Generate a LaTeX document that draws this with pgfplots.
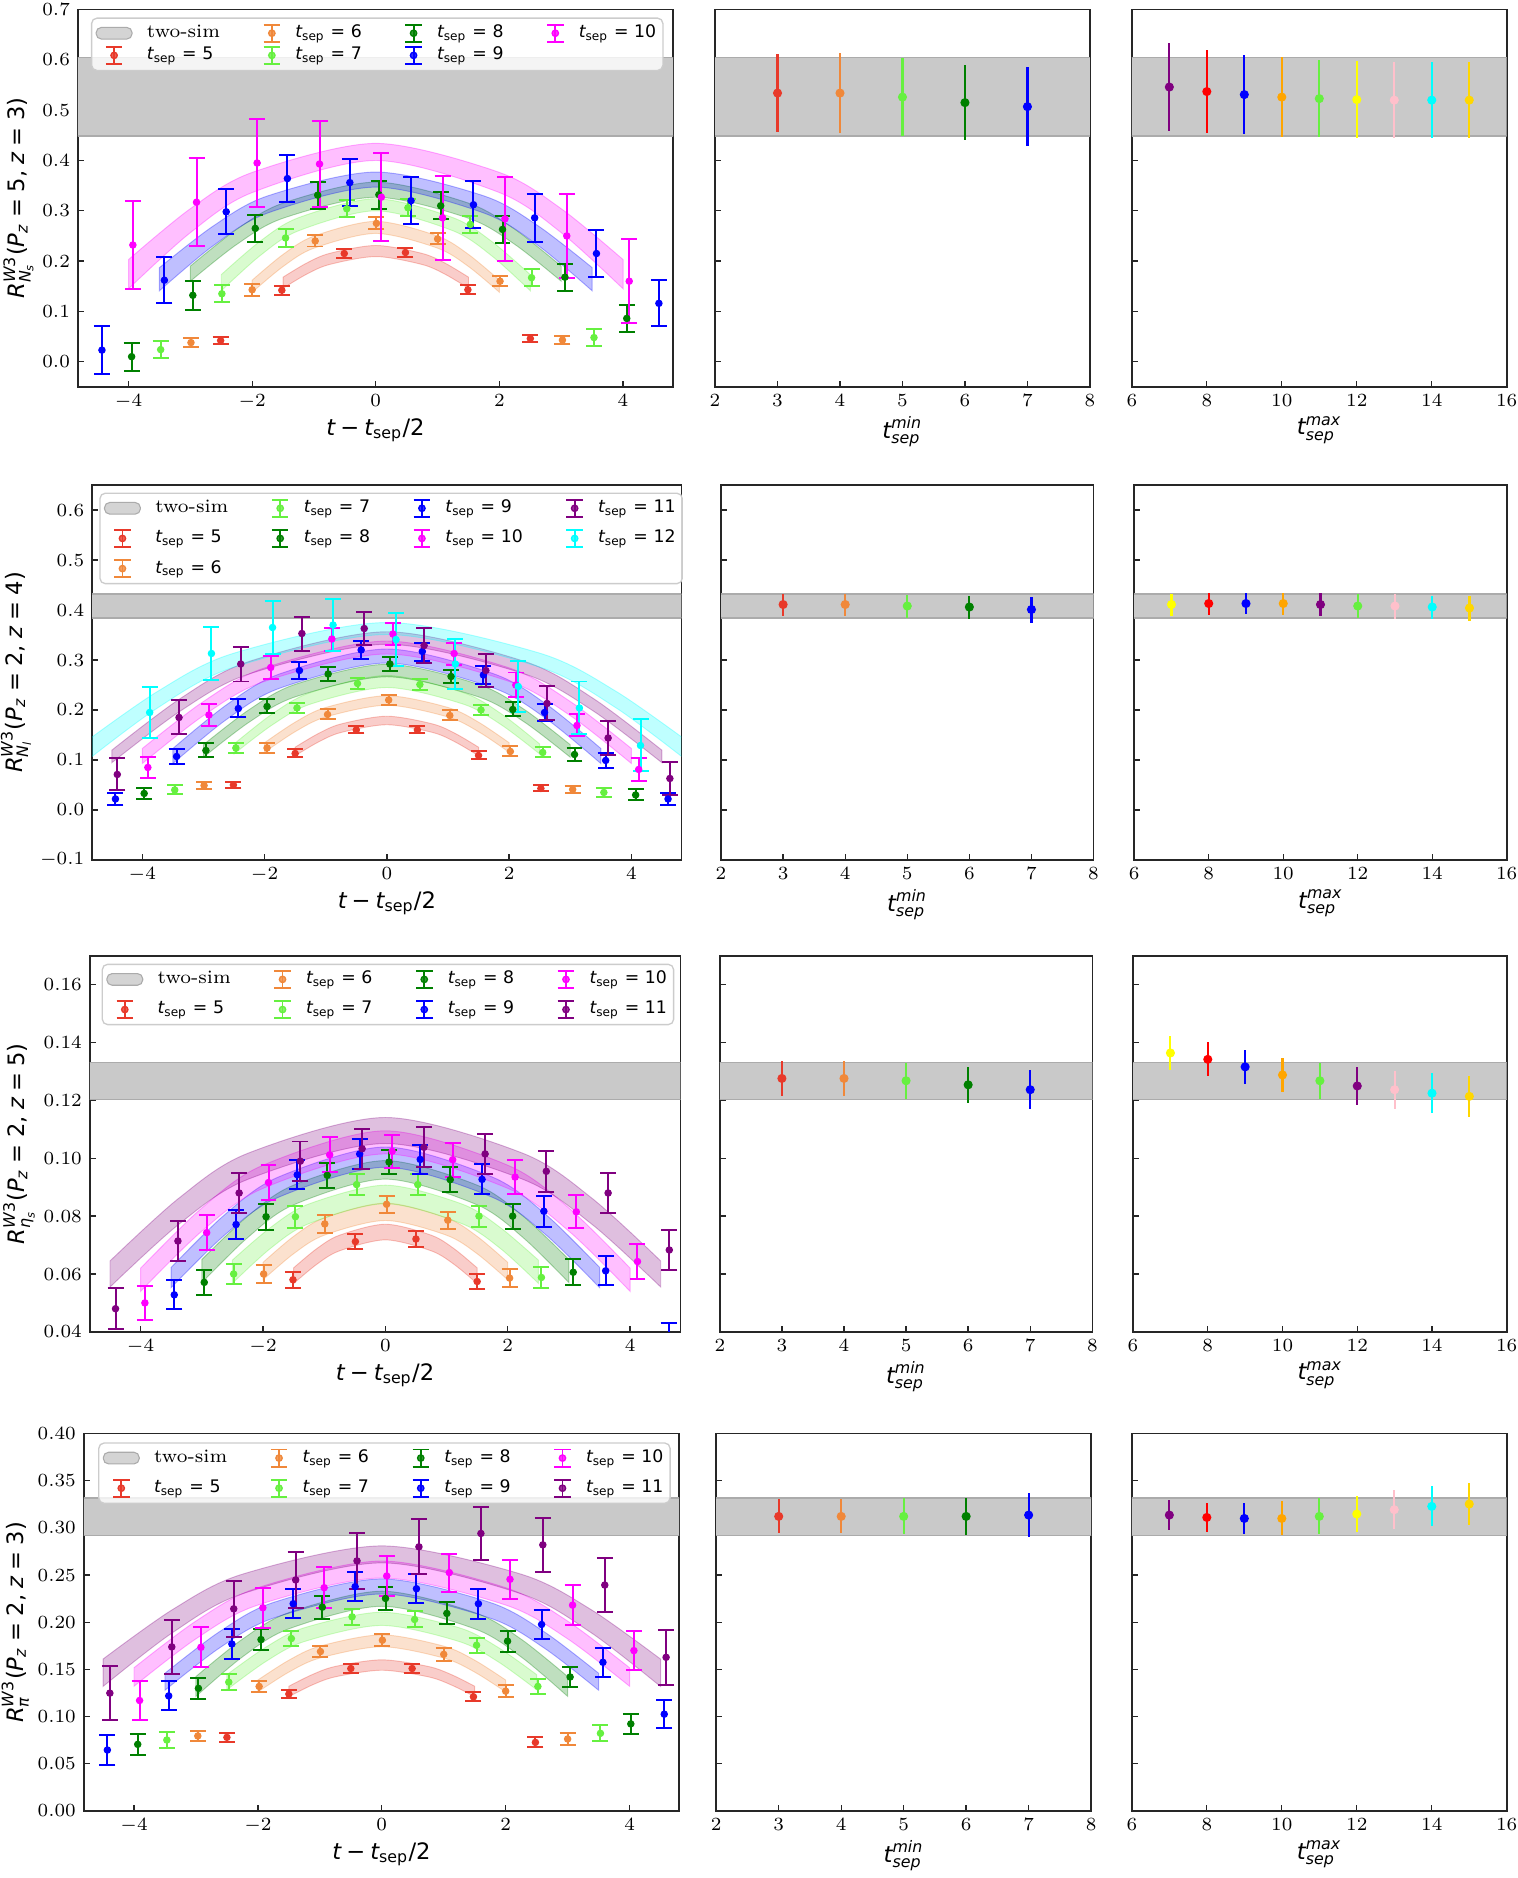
\documentclass[border=0pt]{standalone}
\usepackage{amsmath}
\usepackage{graphicx}
\usepackage{fontspec}
\usepackage{pgfplots}
\pgfplotsset{compat=1.18}
\usepgfplotslibrary{fillbetween}
\newfontfamily\dvs{DejaVu Sans}

\definecolor{cR}{HTML}{E8392A}
\definecolor{cRR}{HTML}{FF0000}
\definecolor{cO}{HTML}{F0883A}
\definecolor{cOr}{HTML}{FFA500}
\definecolor{cLG}{HTML}{66F040}
\definecolor{cDG}{HTML}{008000}
\definecolor{cB}{HTML}{0000FF}
\definecolor{cM}{HTML}{FF00FF}
\definecolor{cP}{HTML}{800080}
\definecolor{cC}{HTML}{00FFFF}
\definecolor{cY}{HTML}{FFFF00}
\definecolor{cPk}{HTML}{FFC0CB}
\definecolor{cGd}{HTML}{FFD700}

\newcommand{\sI}[1]{\text{\dvs\itshape #1}}
\newcommand{\sU}[1]{\text{\dvs\upshape #1}}
\newcommand{\ts}[1]{{\fontsize{6.5}{7.5}\selectfont$\sI{t}_{\sU{sep}}\mathrel{\sU{=}}\sU{#1}$}}
\newcommand{\Rlab}[3]{$\sI{R}^{\sI{W}\sU{3}}_{#1}\sU{(}\sI{P}_{\sI{z}}\mathrel{\sU{=}}\sU{#2}\sU{,}\;\sI{z}\mathrel{\sU{=}}\sU{#3}\sU{)}$}
\newcommand{\xlabL}{$\sI{t}\mathbin{\sU{−}}\sI{t}_{\sU{sep}}\sU{/2}$}
\newcommand{\xlabM}{$\sI{t}^{\sI{min}}_{\sI{sep}}$}
\newcommand{\xlabR}{$\sI{t}^{\sI{max}}_{\sI{sep}}$}

\newcommand{\band}[4]{%
 \addplot[draw=none, smooth, name path=u#1, forget plot] coordinates {#3};
 \addplot[draw=none, smooth, name path=l#1, forget plot] coordinates {#4};
 \addplot[fill=#2, fill opacity=0.25, draw=#2, draw opacity=0.3, line width=0.35pt, forget plot] fill between[of=u#1 and l#1];
}
\newcommand{\gband}[2]{%
 \addplot[draw=none, name path=gA, forget plot] coordinates {(-10,#1) (20,#1)};
 \addplot[draw=none, name path=gB, forget plot] coordinates {(-10,#2) (20,#2)};
 \addplot[fill=black!21, draw=none, forget plot] fill between[of=gA and gB];
 \addplot[draw=black!33, line width=0.55pt, forget plot] coordinates {(-10,#1) (20,#1)};
 \addplot[draw=black!33, line width=0.55pt, forget plot] coordinates {(-10,#2) (20,#2)};
}

\pgfplotsset{
  base/.style={scale only axis, axis line style={black!85, line width=0.6pt},
    tick align=inside, tick pos=left, major tick length=2.2pt,
    tick style={black!85, line width=0.5pt},
    tick label style={font=\fontsize{7.1}{8.5}\selectfont, inner sep=2.8pt},
    label style={font=\fontsize{8.5}{10}\selectfont},
    xlabel shift=-2.6pt, ylabel shift=-3pt,
    scaled ticks=false, anchor=north west},
  leftax/.style={base, xtick={-4,-2,0,2,4}, xlabel={\xlabL}},
  midax/.style={base, xmin=2, xmax=8, xtick={2,3,4,5,6,7,8}, yticklabels={}, xlabel={\xlabM}},
  rightax/.style={base, xmin=6, xmax=16, xtick={6,8,10,12,14,16}, yticklabels={}, xlabel={\xlabR}},
  lp/.style={forget plot, color=#1, only marks, mark=*, mark size=1.2pt,
    error bars/.cd, y dir=both, y explicit,
    error bar style={line width=0.75pt, color=#1},
    error mark options={rotate=90, line width=0.75pt, mark size=3.0pt, color=#1}},
  mp/.style={forget plot, color=#1, only marks, mark=*, mark size=1.5pt,
    error bars/.cd, y dir=both, y explicit, error mark=none,
    error bar style={line width=0.8pt, color=#1}},
  ebleg/.style={legend image code/.code={
    \draw[line width=0.7pt] (6.75pt,-3.2pt) -- (6.75pt,3.2pt);
    \draw[line width=0.7pt] (3.65pt,-3.2pt) -- (9.85pt,-3.2pt);
    \draw[line width=0.7pt] (3.65pt,3.2pt) -- (9.85pt,3.2pt);
    \fill (6.75pt,0pt) circle (1.2pt);}},
  bandleg/.style={legend image code/.code={
    \draw[fill=black!21, draw=black!33, line width=0.4pt] (0pt,-2.2pt) rectangle (13.5pt,2.2pt);}},
  legst/.style 2 args={legend columns=4, legend cell align=left,
    legend style={at={#1}, anchor=north west, draw=black!20, line width=0.5pt,
      rounded corners=2pt, fill=white, fill opacity=0.8, draw opacity=1, text opacity=1,
      inner xsep=1.5pt, inner ysep=1.5pt, row sep=#2,
      font=\fontsize{7.1}{8.5}\selectfont, nodes={inner sep=1pt},
      /tikz/every odd column/.append style={column sep=4.4pt},
      /tikz/every even column/.append style={column sep=15pt}}},
}

\begin{document}
\begin{tikzpicture}

%%%%%%%%%%%%%%%%%%%%%%%% ROW 1 %%%%%%%%%%%%%%%%%%%%%%%%
\begin{axis}[leftax, at={(29.25pt,-3.6pt)}, width=223.65pt, height=141.75pt,
  xmin=-4.82, xmax=4.81, ymin=-0.05, ymax=0.7,
  ytick={0,0.1,0.2,0.3,0.4,0.5,0.6,0.7},
  yticklabel style={/pgf/number format/.cd, fixed, fixed zerofill, precision=1},
  ylabel={\Rlab{\sI{N}_{\sI{s}}}{5}{3}},
  legst={(0.022,0.979)}{0pt}]
\gband{0.449}{0.605}
\band{5}{cR}{(-1.5,0.168) (-1.125,0.1956) (-0.75,0.2152) (0,0.231) (0.75,0.2152) (1.125,0.1956) (1.5,0.168)}{(-1.5,0.146) (-1.125,0.1736) (-0.75,0.1932) (0,0.209) (0.75,0.1932) (1.125,0.1736) (1.5,0.146)}
\band{6}{cO}{(-2,0.162) (-1.5,0.2132) (-1,0.2497) (0,0.279) (1,0.2497) (1.5,0.2132) (2,0.162)}{(-2,0.138) (-1.5,0.1892) (-1,0.2257) (0,0.255) (1,0.2257) (1.5,0.1892) (2,0.138)}
\band{7}{cLG}{(-2.5,0.173) (-1.875,0.2391) (-1.25,0.2862) (0,0.324) (1.25,0.2862) (1.875,0.2391) (2.5,0.173)}{(-2.5,0.141) (-1.875,0.2105) (-1.25,0.2602) (0,0.300) (1.25,0.2602) (1.875,0.2105) (2.5,0.141)}
\band{8}{cDG}{(-3,0.190) (-2.25,0.2631) (-1.5,0.3152) (0,0.357) (1.5,0.3152) (2.25,0.2631) (3,0.190)}{(-3,0.160) (-2.25,0.2331) (-1.5,0.2852) (0,0.327) (1.5,0.2852) (2.25,0.2331) (3,0.160)}
\band{9}{cB}{(-3.5,0.187) (-2.625,0.2701) (-1.75,0.3295) (0,0.377) (1.75,0.3295) (2.625,0.2701) (3.5,0.187)}{(-3.5,0.141) (-2.625,0.2311) (-1.75,0.2955) (0,0.347) (1.75,0.2955) (2.625,0.2311) (3.5,0.141)}
\band{10}{cM}{(-4,0.203) (-3,0.3041) (-2,0.3762) (0,0.434) (2,0.3762) (3,0.3041) (4,0.203)}{(-4,0.145) (-3,0.2565) (-2,0.3362) (0,0.400) (2,0.3362) (3,0.2565) (4,0.145)}
\addplot[lp=cR] coordinates {(-2.51,0.042) +- (0,0.007) (-1.52,0.142) +- (0,0.009) (-0.51,0.215) +- (0,0.009) (0.48,0.217) +- (0,0.009) (1.49,0.143) +- (0,0.009) (2.50,0.046) +- (0,0.007)};
\addplot[lp=cO] coordinates {(-2.99,0.038) +- (0,0.009) (-2.00,0.143) +- (0,0.012) (-0.98,0.240) +- (0,0.011) (0.01,0.275) +- (0,0.012) (1.00,0.244) +- (0,0.011) (2.01,0.160) +- (0,0.010) (3.02,0.043) +- (0,0.008)};
\addplot[lp=cLG] coordinates {(-3.48,0.024) +- (0,0.017) (-2.49,0.135) +- (0,0.017) (-1.46,0.246) +- (0,0.018) (-0.47,0.304) +- (0,0.017) (0.52,0.306) +- (0,0.017) (1.53,0.273) +- (0,0.017) (2.52,0.167) +- (0,0.017) (3.53,0.048) +- (0,0.017)};
\addplot[lp=cDG] coordinates {(-3.95,0.010) +- (0,0.028) (-2.96,0.132) +- (0,0.029) (-1.95,0.265) +- (0,0.027) (-0.94,0.331) +- (0,0.027) (0.05,0.332) +- (0,0.028) (1.05,0.310) +- (0,0.027) (2.05,0.263) +- (0,0.027) (3.06,0.168) +- (0,0.027) (4.06,0.086) +- (0,0.027)};
\addplot[lp=cB] coordinates {(-4.43,0.023) +- (0,0.047) (-3.42,0.162) +- (0,0.046) (-2.42,0.298) +- (0,0.045) (-1.43,0.364) +- (0,0.047) (-0.42,0.356) +- (0,0.046) (0.57,0.320) +- (0,0.047) (1.58,0.312) +- (0,0.047) (2.57,0.286) +- (0,0.048) (3.57,0.215) +- (0,0.046) (4.58,0.116) +- (0,0.046)};
\addplot[lp=cM] coordinates {(-3.93,0.232) +- (0,0.088) (-2.90,0.317) +- (0,0.087) (-1.92,0.395) +- (0,0.088) (-0.91,0.393) +- (0,0.086) (0.09,0.327) +- (0,0.087) (1.08,0.286) +- (0,0.084) (2.09,0.284) +- (0,0.083) (3.09,0.250) +- (0,0.083) (4.10,0.160) +- (0,0.083)};
\addlegendimage{bandleg}\addlegendentry{two-sim}
\addlegendimage{ebleg,cO}\addlegendentry{\ts{6}}
\addlegendimage{ebleg,cDG}\addlegendentry{\ts{8}}
\addlegendimage{ebleg,cM}\addlegendentry{\ts{10}}
\addlegendimage{ebleg,cR}\addlegendentry{\ts{5}}
\addlegendimage{ebleg,cLG}\addlegendentry{\ts{7}}
\addlegendimage{ebleg,cB}\addlegendentry{\ts{9}}
\end{axis}

\begin{axis}[midax, at={(268.65pt,-3.6pt)}, width=140.85pt, height=141.75pt,
  ymin=-0.05, ymax=0.7, ytick={0,0.1,0.2,0.3,0.4,0.5,0.6,0.7}]
\gband{0.449}{0.605}
\addplot[mp=cR] coordinates {(3,0.534) +- (0,0.077)};
\addplot[mp=cO] coordinates {(4,0.534) +- (0,0.080)};
\addplot[mp=cLG] coordinates {(5,0.526) +- (0,0.078)};
\addplot[mp=cDG] coordinates {(6,0.515) +- (0,0.074)};
\addplot[mp=cB] coordinates {(7,0.507) +- (0,0.078)};
\end{axis}

\begin{axis}[rightax, at={(425.25pt,-3.6pt)}, width=140.85pt, height=141.75pt,
  ymin=-0.05, ymax=0.7, ytick={0,0.1,0.2,0.3,0.4,0.5,0.6,0.7}]
\gband{0.449}{0.605}
\addplot[mp=cP] coordinates {(7,0.546) +- (0,0.087)};
\addplot[mp=cRR] coordinates {(8,0.537) +- (0,0.082)};
\addplot[mp=cB] coordinates {(9,0.531) +- (0,0.078)};
\addplot[mp=cOr] coordinates {(10,0.526) +- (0,0.079)};
\addplot[mp=cLG] coordinates {(11,0.523) +- (0,0.076)};
\addplot[mp=cY] coordinates {(12,0.521) +- (0,0.077)};
\addplot[mp=cPk] coordinates {(13,0.520) +- (0,0.075)};
\addplot[mp=cC] coordinates {(14,0.520) +- (0,0.075)};
\addplot[mp=cGd] coordinates {(15,0.520) +- (0,0.075)};
\end{axis}

%%%%%%%%%%%%%%%%%%%%%%%% ROW 2 %%%%%%%%%%%%%%%%%%%%%%%%
\begin{axis}[leftax, at={(34.65pt,-182.25pt)}, width=221.4pt, height=140.85pt,
  xmin=-4.82, xmax=4.82, ymin=-0.1, ymax=0.65,
  ytick={-0.1,0,0.1,0.2,0.3,0.4,0.5,0.6},
  yticklabel style={/pgf/number format/.cd, fixed, fixed zerofill, precision=1},
  ylabel={\Rlab{\sI{N}_{\sI{l}}}{2}{4}},
  legst={(0.012,0.98)}{3pt}]
\gband{0.384}{0.432}
\band{5}{cR}{(-1.5,0.1255) (-1.125,0.1526) (-0.75,0.172) (0,0.1875) (0.75,0.172) (1.125,0.1526) (1.5,0.1255)}{(-1.5,0.1085) (-1.125,0.1356) (-0.75,0.155) (0,0.1705) (0.75,0.155) (1.125,0.1356) (1.5,0.1085)}
\band{6}{cO}{(-2,0.1345) (-1.5,0.1756) (-1,0.205) (0,0.2285) (1,0.205) (1.5,0.1756) (2,0.1345)}{(-2,0.1155) (-1.5,0.1566) (-1,0.186) (0,0.2095) (1,0.186) (1.5,0.1566) (2,0.1155)}
\band{7}{cLG}{(-2.5,0.132) (-1.875,0.1921) (-1.25,0.2347) (0,0.269) (1.25,0.2347) (1.875,0.1921) (2.5,0.132)}{(-2.5,0.112) (-1.875,0.1701) (-1.25,0.2117) (0,0.245) (1.25,0.2117) (1.875,0.1701) (2.5,0.112)}
\band{8}{cDG}{(-3,0.1305) (-2.25,0.2009) (-1.5,0.2512) (0,0.2915) (1.5,0.2512) (2.25,0.2009) (3,0.1305)}{(-3,0.1055) (-2.25,0.1759) (-1.5,0.2262) (0,0.2665) (1.5,0.2262) (2.25,0.1759) (3,0.1055)}
\band{9}{cB}{(-3.5,0.123) (-2.625,0.2101) (-1.75,0.2723) (0,0.322) (1.75,0.2723) (2.625,0.2101) (3.5,0.123)}{(-3.5,0.093) (-2.625,0.1809) (-1.75,0.2437) (0,0.294) (1.75,0.2437) (2.625,0.1809) (3.5,0.093)}
\band{10}{cM}{(-4,0.123) (-3,0.217) (-2,0.2842) (0,0.338) (2,0.2842) (3,0.217) (4,0.123)}{(-4,0.093) (-3,0.1888) (-2,0.2572) (0,0.312) (2,0.2572) (3,0.1888) (4,0.093)}
\band{11}{cP}{(-4.5,0.1195) (-3.375,0.2232) (-2.25,0.2972) (0,0.3565) (2.25,0.2972) (3.375,0.2232) (4.5,0.1195)}{(-4.5,0.0945) (-3.375,0.1982) (-2.25,0.2722) (0,0.3315) (2.25,0.2722) (3.375,0.1982) (4.5,0.0945)}
\band{12}{cC}{(-5,0.130) (-3.75,0.2372) (-2.5,0.3137) (0,0.375) (2.5,0.3137) (3.75,0.2372) (5,0.130)}{(-5,0.090) (-3.75,0.2042) (-2.5,0.2857) (0,0.351) (2.5,0.2857) (3.75,0.2042) (5,0.090)}
\addplot[lp=cR] coordinates {(-2.51,0.050) +- (0,0.006) (-1.50,0.113) +- (0,0.008) (-0.50,0.160) +- (0,0.007) (0.50,0.160) +- (0,0.007) (1.50,0.109) +- (0,0.008) (2.52,0.043) +- (0,0.006)};
\addplot[lp=cO] coordinates {(-2.99,0.049) +- (0,0.007) (-1.96,0.124) +- (0,0.010) (-0.97,0.191) +- (0,0.010) (0.03,0.220) +- (0,0.010) (1.03,0.189) +- (0,0.010) (2.02,0.117) +- (0,0.010) (3.04,0.041) +- (0,0.007)};
\addplot[lp=cLG] coordinates {(-3.47,0.040) +- (0,0.009) (-2.47,0.124) +- (0,0.010) (-1.47,0.204) +- (0,0.010) (-0.48,0.253) +- (0,0.011) (0.54,0.251) +- (0,0.011) (1.54,0.200) +- (0,0.010) (2.55,0.115) +- (0,0.010) (3.55,0.035) +- (0,0.009)};
\addplot[lp=cDG] coordinates {(-3.97,0.033) +- (0,0.011) (-2.96,0.119) +- (0,0.014) (-1.96,0.207) +- (0,0.014) (-0.96,0.272) +- (0,0.014) (0.05,0.292) +- (0,0.014) (1.05,0.267) +- (0,0.014) (2.06,0.201) +- (0,0.014) (3.07,0.111) +- (0,0.013) (4.07,0.030) +- (0,0.011)};
\addplot[lp=cB] coordinates {(-4.44,0.022) +- (0,0.012) (-3.44,0.107) +- (0,0.015) (-2.43,0.203) +- (0,0.018) (-1.43,0.279) +- (0,0.017) (-0.42,0.320) +- (0,0.018) (0.58,0.317) +- (0,0.018) (1.58,0.270) +- (0,0.018) (2.58,0.195) +- (0,0.017) (3.58,0.099) +- (0,0.015) (4.60,0.022) +- (0,0.012)};
\addplot[lp=cM] coordinates {(-3.91,0.085) +- (0,0.021) (-2.91,0.190) +- (0,0.022) (-1.90,0.285) +- (0,0.023) (-0.90,0.342) +- (0,0.023) (0.10,0.352) +- (0,0.022) (1.10,0.313) +- (0,0.022) (2.11,0.250) +- (0,0.025) (3.11,0.169) +- (0,0.022) (4.12,0.081) +- (0,0.023)};
\addplot[lp=cP] coordinates {(-4.41,0.071) +- (0,0.032) (-3.40,0.185) +- (0,0.034) (-2.39,0.292) +- (0,0.035) (-1.39,0.353) +- (0,0.034) (-0.37,0.363) +- (0,0.033) (0.61,0.329) +- (0,0.035) (1.62,0.279) +- (0,0.034) (2.62,0.213) +- (0,0.034) (3.62,0.144) +- (0,0.034) (4.63,0.063) +- (0,0.033)};
\addplot[lp=cC] coordinates {(-3.88,0.195) +- (0,0.051) (-2.87,0.313) +- (0,0.053) (-1.87,0.365) +- (0,0.053) (-0.88,0.370) +- (0,0.052) (0.15,0.341) +- (0,0.053) (1.12,0.292) +- (0,0.051) (2.15,0.247) +- (0,0.051) (3.15,0.204) +- (0,0.053) (4.15,0.129) +- (0,0.052)};
\addlegendimage{bandleg}\addlegendentry{two-sim}
\addlegendimage{ebleg,cLG}\addlegendentry{\ts{7}}
\addlegendimage{ebleg,cB}\addlegendentry{\ts{9}}
\addlegendimage{ebleg,cP}\addlegendentry{\ts{11}}
\addlegendimage{ebleg,cR}\addlegendentry{\ts{5}}
\addlegendimage{ebleg,cDG}\addlegendentry{\ts{8}}
\addlegendimage{ebleg,cM}\addlegendentry{\ts{10}}
\addlegendimage{ebleg,cC}\addlegendentry{\ts{12}}
\addlegendimage{ebleg,cO}\addlegendentry{\ts{6}}
\end{axis}

\begin{axis}[midax, at={(270.9pt,-182.25pt)}, width=139.95pt, height=140.85pt,
  ymin=-0.1, ymax=0.65, ytick={-0.1,0,0.1,0.2,0.3,0.4,0.5,0.6}]
\gband{0.384}{0.432}
\addplot[mp=cR] coordinates {(3,0.411) +- (0,0.022)};
\addplot[mp=cO] coordinates {(4,0.411) +- (0,0.022)};
\addplot[mp=cLG] coordinates {(5,0.408) +- (0,0.023)};
\addplot[mp=cDG] coordinates {(6,0.406) +- (0,0.023)};
\addplot[mp=cB] coordinates {(7,0.401) +- (0,0.026)};
\end{axis}

\begin{axis}[rightax, at={(426.15pt,-182.25pt)}, width=139.95pt, height=140.85pt,
  ymin=-0.1, ymax=0.65, ytick={-0.1,0,0.1,0.2,0.3,0.4,0.5,0.6}]
\gband{0.384}{0.432}
\addplot[mp=cY] coordinates {(7,0.411) +- (0,0.022)};
\addplot[mp=cRR] coordinates {(8,0.413) +- (0,0.022)};
\addplot[mp=cB] coordinates {(9,0.413) +- (0,0.021)};
\addplot[mp=cOr] coordinates {(10,0.413) +- (0,0.022)};
\addplot[mp=cP] coordinates {(11,0.411) +- (0,0.023)};
\addplot[mp=cLG] coordinates {(12,0.408) +- (0,0.024)};
\addplot[mp=cPk] coordinates {(13,0.408) +- (0,0.025)};
\addplot[mp=cC] coordinates {(14,0.406) +- (0,0.023)};
\addplot[mp=cGd] coordinates {(15,0.404) +- (0,0.025)};
\end{axis}

%%%%%%%%%%%%%%%%%%%%%%%% ROW 3 %%%%%%%%%%%%%%%%%%%%%%%%
\begin{axis}[leftax, at={(33.75pt,-359.1pt)}, width=221.85pt, height=141.3pt,
  xmin=-4.83, xmax=4.82, ymin=0.04, ymax=0.17,
  ytick={0.04,0.06,0.08,0.10,0.12,0.14,0.16},
  yticklabel style={/pgf/number format/.cd, fixed, fixed zerofill, precision=2},
  ylabel={\Rlab{\sI{η}_{\sI{s}}}{2}{5}},
  legst={(0.02,0.979)}{3pt}]
\gband{0.1203}{0.1332}
\band{5}{cR}{(-1.5,0.0621) (-1.125,0.0687) (-0.75,0.0734) (0,0.0772) (0.75,0.0734) (1.125,0.0687) (1.5,0.0621)}{(-1.5,0.0567) (-1.125,0.0633) (-0.75,0.068) (0,0.0718) (0.75,0.068) (1.125,0.0633) (1.5,0.0567)}
\band{6}{cO}{(-2,0.064) (-1.5,0.073) (-1,0.0794) (0,0.0845) (1,0.0794) (1.5,0.073) (2,0.064)}{(-2,0.058) (-1.5,0.067) (-1,0.0734) (0,0.0785) (1,0.0734) (1.5,0.067) (2,0.058)}
\band{7}{cLG}{(-2.5,0.0648) (-1.875,0.0761) (-1.25,0.0842) (0,0.0907) (1.25,0.0842) (1.875,0.0761) (2.5,0.0648)}{(-2.5,0.0568) (-1.875,0.0689) (-1.25,0.0774) (0,0.0843) (1.25,0.0774) (1.875,0.0689) (2.5,0.0568)}
\band{8}{cDG}{(-3,0.065) (-2.25,0.080) (-1.5,0.0907) (0,0.0992) (1.5,0.0907) (2.25,0.080) (3,0.065)}{(-3,0.057) (-2.25,0.0726) (-1.5,0.0839) (0,0.0928) (1.5,0.0839) (2.25,0.0726) (3,0.057)}
\band{9}{cB}{(-3.5,0.0623) (-2.625,0.0805) (-1.75,0.0935) (0,0.1039) (1.75,0.0935) (2.625,0.0805) (3.5,0.0623)}{(-3.5,0.0553) (-2.625,0.0735) (-1.75,0.0865) (0,0.0969) (1.75,0.0865) (2.625,0.0735) (3.5,0.0553)}
\band{10}{cM}{(-4,0.062) (-3,0.0828) (-2,0.0976) (0,0.1095) (2,0.0976) (3,0.0828) (4,0.062)}{(-4,0.054) (-3,0.0748) (-2,0.0896) (0,0.1015) (2,0.0896) (3,0.0748) (4,0.054)}
\band{11}{cP}{(-4.5,0.0645) (-3.375,0.0862) (-2.25,0.1017) (0,0.1141) (2.25,0.1017) (3.375,0.0862) (4.5,0.0645)}{(-4.5,0.0555) (-3.375,0.0772) (-2.25,0.0927) (0,0.1051) (2.25,0.0927) (3.375,0.0772) (4.5,0.0555)}
\addplot[lp=cR] coordinates {(-1.51,0.0580) +- (0,0.0028) (-0.49,0.0712) +- (0,0.0026) (0.50,0.0721) +- (0,0.0026) (1.50,0.0574) +- (0,0.0026)};
\addplot[lp=cO] coordinates {(-1.99,0.0600) +- (0,0.0032) (-0.99,0.0773) +- (0,0.0030) (0.02,0.0841) +- (0,0.0030) (1.02,0.0786) +- (0,0.0030) (2.03,0.0586) +- (0,0.0030)};
\addplot[lp=cLG] coordinates {(-2.48,0.0600) +- (0,0.0036) (-1.47,0.0798) +- (0,0.0038) (-0.47,0.0909) +- (0,0.0036) (0.53,0.0909) +- (0,0.0036) (1.53,0.0800) +- (0,0.0036) (2.55,0.0588) +- (0,0.0037)};
\addplot[lp=cDG] coordinates {(-2.96,0.0571) +- (0,0.0044) (-1.95,0.0798) +- (0,0.0045) (-0.95,0.0941) +- (0,0.0044) (0.06,0.0987) +- (0,0.0043) (1.06,0.0926) +- (0,0.0044) (2.08,0.0800) +- (0,0.0043) (3.07,0.0606) +- (0,0.0045)};
\addplot[lp=cB] coordinates {(-3.45,0.0528) +- (0,0.0050) (-2.44,0.0771) +- (0,0.0050) (-1.44,0.0943) +- (0,0.0050) (-0.42,0.1015) +- (0,0.0052) (0.57,0.0996) +- (0,0.0050) (1.58,0.0927) +- (0,0.0052) (2.59,0.0817) +- (0,0.0053) (3.60,0.0611) +- (0,0.0050) (4.63,0.0375) +- (0,0.0055)};
\addplot[lp=cM] coordinates {(-3.93,0.0500) +- (0,0.0058) (-2.92,0.0743) +- (0,0.0060) (-1.91,0.0916) +- (0,0.0060) (-0.91,0.1012) +- (0,0.0060) (0.11,0.1024) +- (0,0.0057) (1.10,0.0995) +- (0,0.0059) (2.12,0.0935) +- (0,0.0060) (3.12,0.0815) +- (0,0.0057) (4.12,0.0643) +- (0,0.0060)};
\addplot[lp=cP] coordinates {(-4.41,0.0480) +- (0,0.0070) (-3.39,0.0714) +- (0,0.0070) (-2.39,0.0880) +- (0,0.0070) (-1.39,0.0990) +- (0,0.0068) (-0.38,0.1033) +- (0,0.0069) (0.63,0.1038) +- (0,0.0069) (1.63,0.1015) +- (0,0.0070) (2.63,0.0955) +- (0,0.0070) (3.64,0.0880) +- (0,0.0069) (4.64,0.0683) +- (0,0.0070)};
\addlegendimage{bandleg}\addlegendentry{two-sim}
\addlegendimage{ebleg,cO}\addlegendentry{\ts{6}}
\addlegendimage{ebleg,cDG}\addlegendentry{\ts{8}}
\addlegendimage{ebleg,cM}\addlegendentry{\ts{10}}
\addlegendimage{ebleg,cR}\addlegendentry{\ts{5}}
\addlegendimage{ebleg,cLG}\addlegendentry{\ts{7}}
\addlegendimage{ebleg,cB}\addlegendentry{\ts{9}}
\addlegendimage{ebleg,cP}\addlegendentry{\ts{11}}
\end{axis}

\begin{axis}[midax, at={(270.45pt,-359.1pt)}, width=139.95pt, height=141.3pt,
  ymin=0.04, ymax=0.17, ytick={0.04,0.06,0.08,0.10,0.12,0.14,0.16}]
\gband{0.1203}{0.1332}
\addplot[mp=cR] coordinates {(3,0.1276) +- (0,0.0061)};
\addplot[mp=cO] coordinates {(4,0.1276) +- (0,0.0061)};
\addplot[mp=cLG] coordinates {(5,0.1268) +- (0,0.0063)};
\addplot[mp=cDG] coordinates {(6,0.1254) +- (0,0.0063)};
\addplot[mp=cB] coordinates {(7,0.1237) +- (0,0.0067)};
\end{axis}

\begin{axis}[rightax, at={(425.7pt,-359.1pt)}, width=140.4pt, height=141.3pt,
  ymin=0.04, ymax=0.17, ytick={0.04,0.06,0.08,0.10,0.12,0.14,0.16}]
\gband{0.1203}{0.1332}
\addplot[mp=cY] coordinates {(7,0.1364) +- (0,0.0058)};
\addplot[mp=cRR] coordinates {(8,0.1342) +- (0,0.0059)};
\addplot[mp=cB] coordinates {(9,0.1316) +- (0,0.0060)};
\addplot[mp=cOr] coordinates {(10,0.1288) +- (0,0.0060)};
\addplot[mp=cLG] coordinates {(11,0.1268) +- (0,0.0063)};
\addplot[mp=cP] coordinates {(12,0.1250) +- (0,0.0066)};
\addplot[mp=cPk] coordinates {(13,0.1237) +- (0,0.0066)};
\addplot[mp=cC] coordinates {(14,0.1225) +- (0,0.0070)};
\addplot[mp=cGd] coordinates {(15,0.1214) +- (0,0.0072)};
\end{axis}

%%%%%%%%%%%%%%%%%%%%%%%% ROW 4 %%%%%%%%%%%%%%%%%%%%%%%%
\begin{axis}[leftax, at={(31.5pt,-538.65pt)}, width=223.65pt, height=141.75pt,
  xmin=-4.81, xmax=4.80, ymin=0, ymax=0.4,
  ytick={0,0.05,0.10,0.15,0.20,0.25,0.30,0.35,0.40},
  yticklabel style={/pgf/number format/.cd, fixed, fixed zerofill, precision=2},
  ylabel={\Rlab{\sI{π}}{2}{3}},
  legst={(0.024,0.977)}{3pt}]
\gband{0.292}{0.332}
\band{5}{cR}{(-1.5,0.1322) (-1.125,0.1445) (-0.75,0.1532) (0,0.1602) (0.75,0.1532) (1.125,0.1445) (1.5,0.1322)}{(-1.5,0.1212) (-1.125,0.1335) (-0.75,0.1422) (0,0.1492) (0.75,0.1422) (1.125,0.1335) (1.5,0.1212)}
\band{6}{cO}{(-2,0.1388) (-1.5,0.1598) (-1,0.1747) (0,0.1867) (1,0.1747) (1.5,0.1598) (2,0.1388)}{(-2,0.1262) (-1.5,0.1472) (-1,0.1621) (0,0.1741) (1,0.1621) (1.5,0.1472) (2,0.1262)}
\band{7}{cLG}{(-2.5,0.1445) (-1.875,0.1735) (-1.25,0.1942) (0,0.2107) (1.25,0.1942) (1.875,0.1735) (2.5,0.1445)}{(-2.5,0.1285) (-1.875,0.1583) (-1.25,0.1796) (0,0.1967) (1.25,0.1796) (1.875,0.1583) (2.5,0.1285)}
\band{8}{cDG}{(-3,0.1425) (-2.25,0.1821) (-1.5,0.2103) (0,0.233) (1.5,0.2103) (2.25,0.1821) (3,0.1425)}{(-3,0.1215) (-2.25,0.1633) (-1.5,0.1931) (0,0.217) (1.5,0.1931) (2.25,0.1633) (3,0.1215)}
\band{9}{cB}{(-3.5,0.146) (-2.625,0.1898) (-1.75,0.221) (0,0.246) (1.75,0.221) (2.625,0.1898) (3.5,0.146)}{(-3.5,0.128) (-2.625,0.1726) (-1.75,0.2044) (0,0.230) (1.75,0.2044) (2.625,0.1726) (3.5,0.128)}
\band{10}{cM}{(-4,0.1518) (-3,0.2013) (-2,0.2367) (0,0.265) (2,0.2367) (3,0.2013) (4,0.1518)}{(-4,0.1322) (-3,0.1825) (-2,0.2183) (0,0.247) (2,0.2183) (3,0.1825) (4,0.1322)}
\band{11}{cP}{(-4.5,0.161) (-3.375,0.2136) (-2.25,0.251) (0,0.281) (2.25,0.251) (3.375,0.2136) (4.5,0.161)}{(-4.5,0.132) (-3.375,0.1892) (-2.25,0.2302) (0,0.263) (2.25,0.2302) (3.375,0.1892) (4.5,0.132)}
\addplot[lp=cR] coordinates {(-2.50,0.0780) +- (0,0.0048) (-1.50,0.1240) +- (0,0.0045) (-0.50,0.1510) +- (0,0.0047) (0.49,0.1510) +- (0,0.0047) (1.48,0.1210) +- (0,0.0048) (2.48,0.0727) +- (0,0.0052)};
\addplot[lp=cO] coordinates {(-2.97,0.0795) +- (0,0.0057) (-1.98,0.1320) +- (0,0.0057) (-0.99,0.1690) +- (0,0.0060) (0.01,0.1810) +- (0,0.0065) (1.00,0.1660) +- (0,0.0070) (2.00,0.1270) +- (0,0.0062) (3.00,0.0763) +- (0,0.0060)};
\addplot[lp=cLG] coordinates {(-3.47,0.0752) +- (0,0.0085) (-2.47,0.1366) +- (0,0.0083) (-1.46,0.1828) +- (0,0.0083) (-0.48,0.2058) +- (0,0.0087) (0.53,0.2030) +- (0,0.0085) (1.53,0.1757) +- (0,0.0080) (2.52,0.1320) +- (0,0.0080) (3.53,0.0823) +- (0,0.0083)};
\addplot[lp=cDG] coordinates {(-3.94,0.0706) +- (0,0.0110) (-2.96,0.1300) +- (0,0.0110) (-1.95,0.1817) +- (0,0.0110) (-0.96,0.2160) +- (0,0.0120) (0.06,0.2253) +- (0,0.0120) (1.05,0.2094) +- (0,0.0117) (2.03,0.1800) +- (0,0.0113) (3.04,0.1420) +- (0,0.0108) (4.02,0.0923) +- (0,0.0110)};
\addplot[lp=cB] coordinates {(-4.43,0.0646) +- (0,0.0155) (-3.44,0.1220) +- (0,0.0153) (-2.42,0.1770) +- (0,0.0155) (-1.43,0.2197) +- (0,0.0155) (-0.43,0.2378) +- (0,0.0156) (0.56,0.2356) +- (0,0.0155) (1.56,0.2197) +- (0,0.0158) (2.58,0.1977) +- (0,0.0151) (3.57,0.1576) +- (0,0.0151) (4.56,0.1026) +- (0,0.0147)};
\addplot[lp=cM] coordinates {(-3.91,0.1171) +- (0,0.0210) (-2.92,0.1735) +- (0,0.0210) (-1.92,0.2154) +- (0,0.0213) (-0.93,0.2367) +- (0,0.0217) (0.08,0.2491) +- (0,0.0210) (1.09,0.2527) +- (0,0.0202) (2.07,0.2456) +- (0,0.0204) (3.08,0.2182) +- (0,0.0209) (4.07,0.1700) +- (0,0.0205)};
\addplot[lp=cP] coordinates {(-4.39,0.1249) +- (0,0.0290) (-3.39,0.1739) +- (0,0.0290) (-2.39,0.2143) +- (0,0.0295) (-1.39,0.2449) +- (0,0.0296) (-0.40,0.2651) +- (0,0.0293) (0.60,0.2800) +- (0,0.0290) (1.60,0.2942) +- (0,0.0280) (2.60,0.2821) +- (0,0.0290) (3.60,0.2395) +- (0,0.0290) (4.59,0.1629) +- (0,0.0290)};
\addlegendimage{bandleg}\addlegendentry{two-sim}
\addlegendimage{ebleg,cO}\addlegendentry{\ts{6}}
\addlegendimage{ebleg,cDG}\addlegendentry{\ts{8}}
\addlegendimage{ebleg,cM}\addlegendentry{\ts{10}}
\addlegendimage{ebleg,cR}\addlegendentry{\ts{5}}
\addlegendimage{ebleg,cLG}\addlegendentry{\ts{7}}
\addlegendimage{ebleg,cB}\addlegendentry{\ts{9}}
\addlegendimage{ebleg,cP}\addlegendentry{\ts{11}}
\end{axis}

\begin{axis}[midax, at={(269.1pt,-538.65pt)}, width=140.85pt, height=141.75pt,
  ymin=0, ymax=0.4, ytick={0,0.05,0.10,0.15,0.20,0.25,0.30,0.35,0.40}]
\gband{0.292}{0.332}
\addplot[mp=cR] coordinates {(3,0.3123) +- (0,0.018)};
\addplot[mp=cO] coordinates {(4,0.3123) +- (0,0.018)};
\addplot[mp=cLG] coordinates {(5,0.3123) +- (0,0.019)};
\addplot[mp=cDG] coordinates {(6,0.3123) +- (0,0.020)};
\addplot[mp=cB] coordinates {(7,0.3137) +- (0,0.0234)};
\end{axis}

\begin{axis}[rightax, at={(425.25pt,-538.65pt)}, width=140.85pt, height=141.75pt,
  ymin=0, ymax=0.4, ytick={0,0.05,0.10,0.15,0.20,0.25,0.30,0.35,0.40}]
\gband{0.292}{0.332}
\addplot[mp=cP] coordinates {(7,0.3137) +- (0,0.0157)};
\addplot[mp=cRR] coordinates {(8,0.3112) +- (0,0.0157)};
\addplot[mp=cB] coordinates {(9,0.3101) +- (0,0.0167)};
\addplot[mp=cOr] coordinates {(10,0.3101) +- (0,0.018)};
\addplot[mp=cLG] coordinates {(11,0.3123) +- (0,0.019)};
\addplot[mp=cY] coordinates {(12,0.3148) +- (0,0.0188)};
\addplot[mp=cPk] coordinates {(13,0.3194) +- (0,0.0207)};
\addplot[mp=cC] coordinates {(14,0.3229) +- (0,0.0211)};
\addplot[mp=cGd] coordinates {(15,0.3254) +- (0,0.022)};
\end{axis}

\pgfresetboundingbox
\useasboundingbox (0pt,0pt) rectangle (570.15pt,-705.6pt);
\end{tikzpicture}
\end{document}
